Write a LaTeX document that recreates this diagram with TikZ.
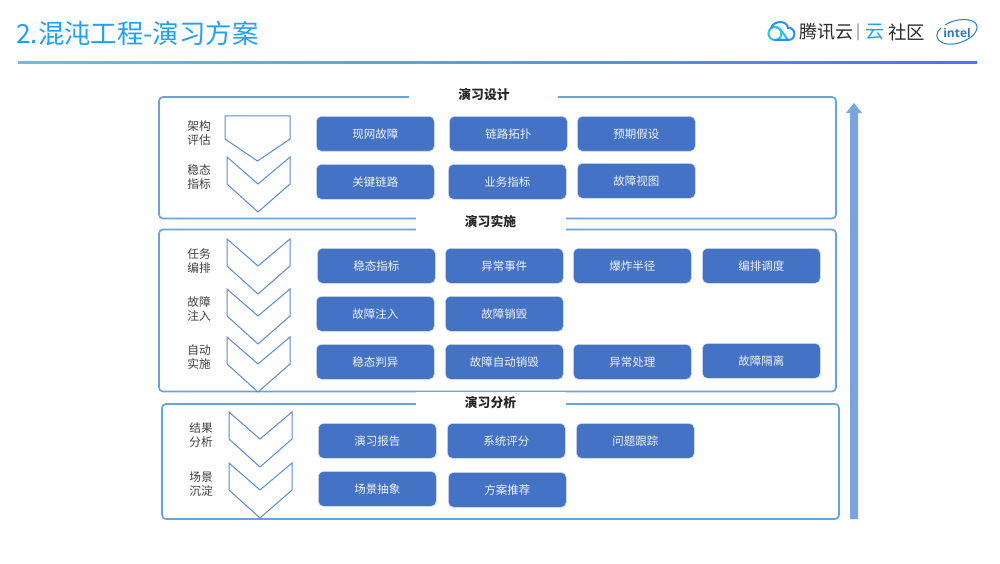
\documentclass[tikz,border=0pt]{standalone}
\usepackage{fontspec}
\setmainfont{Noto Sans CJK SC}
\newfontfamily\latinsans{Open Sans}
\usetikzlibrary{arrows.meta,shadings}
\definecolor{framec}{HTML}{67A3DC}
\definecolor{btn}{HTML}{4472C4}
\definecolor{titlec}{HTML}{1FA2F3}
\definecolor{chev}{HTML}{5A8CCF}
\definecolor{arrowc}{HTML}{7BA3DD}
\definecolor{intelc}{HTML}{2B7CC4}
\definecolor{logoc}{HTML}{2A2A2A}
\definecolor{lineL}{HTML}{5CC6DE}
\definecolor{lineR}{HTML}{3A7BF2}
\definecolor{cloudA}{HTML}{25C3E8}
\definecolor{cloudB}{HTML}{2C8FEC}
\tikzset{
  btnbox/.style={fill=btn,draw=white!80!btn,line width=.6pt,rounded corners=5pt,minimum width=118pt,minimum height=35pt,inner sep=0pt,text=white!92!btn,font=\fontsize{11.5}{13}\selectfont,anchor=north west},
  framebox/.style={draw=framec,line width=1.7pt,rounded corners=4pt},
  chevron/.style={draw=chev,line width=1pt,fill=white,line join=miter},
  sidelabel/.style={align=center,text=black!75,font=\fontsize{11.7}{14}\selectfont,inner sep=0pt},
  sectitle/.style={inner sep=0pt,font=\fontsize{12.8}{14}\selectfont\bfseries,text=black!85},
}
\newcommand{\chevat}[2]{% left x, top y
  \draw[chevron] (#1,#2) -- ++(31,27) -- ++(32,-27) -- ++(0,27) -- ++(-32,28) -- ++(-31,-28) -- cycle;}
\begin{document}
\begin{tikzpicture}[x=1pt,y=-1pt]
\useasboundingbox (0,0) rectangle (1000,564);
\fill[white] (0,0) rectangle (1000,564);
% header
\node[anchor=west,inner sep=0pt,text=titlec,font=\fontsize{26.4}{28}\selectfont] (title) at (16,33) {2.混沌工程-演习方案};
\shade[left color=lineL,right color=lineR,shading=axis,shading angle=90] (18,61.2) rectangle (977,63.8);
% logo
\draw[line width=2pt,draw=cloudA] (775,33.5) circle (6.5pt);
\draw[line width=2pt,draw=cloudA] (775,27) .. controls (780,27) and (782,32) .. (788,40);
\draw[line width=2pt,draw=cloudB,line cap=round] (771,28) .. controls (774,20) and (787,20) .. (788,28) .. controls (796,27) and (797,40) .. (788,40) -- (775,40);
\node[anchor=west,inner sep=0pt,text=logoc,font=\fontsize{18}{20}\selectfont] (brand) at (799,32) {腾讯云};
\node[anchor=west,inner sep=0pt,text=logoc!70,font=\fontsize{15}{17}\selectfont] (bar) at (856,32) {|};
\node[anchor=west,inner sep=0pt,text=titlec,font=\fontsize{19}{20}\selectfont] (cloud) at (865,32) {云};
\node[anchor=west,inner sep=0pt,text=logoc,font=\fontsize{18.5}{20}\selectfont] (comm) at (888,32) {社区};
\draw[intelc,line width=1pt] (945,25) .. controls (955,18) and (975,17) .. (977,26) .. controls (979,37) and (955,48) .. (943,43) .. controls (934,39) and (936,32) .. (941,28);
\node[inner sep=0pt,text=intelc,font=\latinsans\bfseries\fontsize{12}{14}\selectfont] (intel) at (957,33) {intel};
% frames
\draw[framebox] (159,97) rectangle (836,218.5);
\draw[framebox] (159,229.5) rectangle (836,391.5);
\draw[framebox] (162,404) rectangle (839,519);
% white patches behind the section titles
\fill[white] (409,90) rectangle (558,104);
\fill[white] (416,212) rectangle (566,236);
\fill[white] (416,391.6) rectangle (566,412);
% section titles
\node[sectitle] (s1) at (484,95) {演习设计};
\node[sectitle] (s2) at (490.5,222) {演习实施};
\node[sectitle] (s3) at (490.5,403) {演习分析};
% chevrons
\draw[chevron] (225,116) -- (290,116) -- (290,139) -- (257.5,161) -- (225,139) -- cycle;
\chevat{227}{157}
\chevat{227}{239}
\chevat{227}{289}
\chevat{227}{337}
\chevat{229}{412}
\chevat{229}{463}
% side labels
\node[sidelabel] (l1) at (199,133) {架构\\评估};
\node[sidelabel] (l2) at (199,177) {稳态\\指标};
\node[sidelabel] (l3) at (199,261) {任务\\编排};
\node[sidelabel] (l4) at (199,309) {故障\\注入};
\node[sidelabel] (l5) at (199,357) {自动\\实施};
\node[sidelabel] (l6) at (201,435) {结果\\分析};
\node[sidelabel] (l7) at (201,484) {场景\\沉淀};
% buttons
\node[btnbox] (a1) at (316,116) {现网故障};
\node[btnbox] (a2) at (449,116) {链路拓扑};
\node[btnbox] (a3) at (577,116) {预期假设};
\node[btnbox] (a4) at (316,164) {关键链路};
\node[btnbox] (a5) at (448,164) {业务指标};
\node[btnbox] (a6) at (577,163) {故障视图};
\node[btnbox] (b1) at (317,248) {稳态指标};
\node[btnbox] (b2) at (445,248) {异常事件};
\node[btnbox] (b3) at (573,248) {爆炸半径};
\node[btnbox] (b4) at (702,248) {编排调度};
\node[btnbox] (b5) at (316,296) {故障注入};
\node[btnbox] (b6) at (445,296) {故障销毁};
\node[btnbox] (b7) at (316,344) {稳态判异};
\node[btnbox] (b8) at (445,344) {故障自动销毁};
\node[btnbox] (b9) at (573,344) {异常处理};
\node[btnbox] (b10) at (702,343) {故障隔离};
\node[btnbox] (c1) at (318,423) {演习报告};
\node[btnbox] (c2) at (447,423) {系统评分};
\node[btnbox] (c3) at (576,423) {问题跟踪};
\node[btnbox] (c4) at (318,471) {场景抽象};
\node[btnbox] (c5) at (448,472) {方案推荐};
% big arrow
\fill[arrowc] (850,519) -- (850,113) -- (846,113) -- (854,103) -- (862,113) -- (858,113) -- (858,519) -- cycle;
\end{tikzpicture}
\end{document}
